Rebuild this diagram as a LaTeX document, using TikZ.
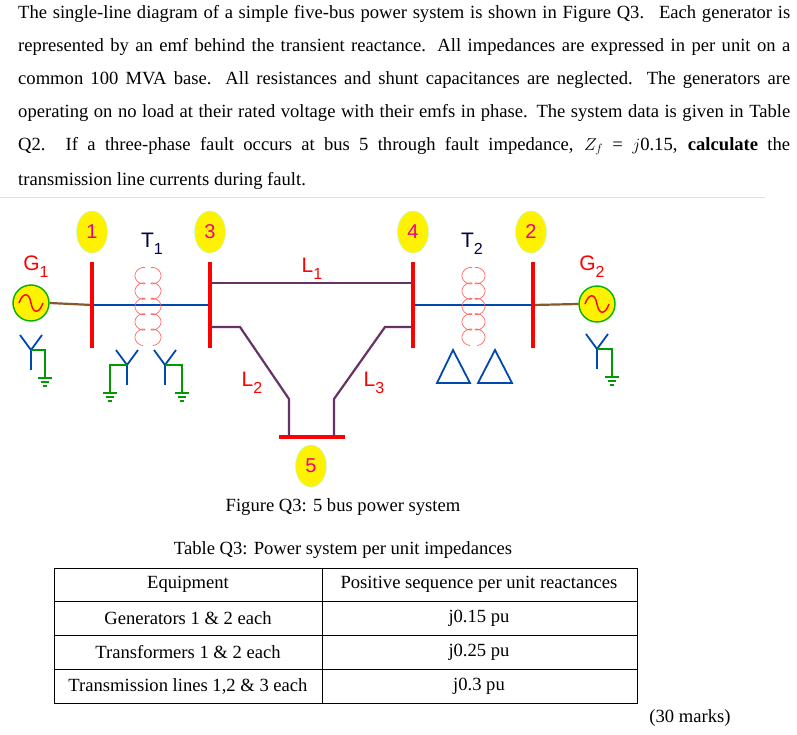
\documentclass[tikz,border=0pt]{standalone}
\usepackage{fontspec}
\usetikzlibrary{shapes.geometric}
\setmainfont{Liberation Serif}
\newfontfamily\lbl{Liberation Sans}
\newcommand\gwye[3]{% x, y of junction, dir of ground
 \draw[wye] (#1-11,#2-15) -- (#1,#2) -- (#1+11,#2-15);
 \draw[wye] (#1,#2) -- (#1,#2+20);
 \draw[gnd] (#1,#2) -- (#1+#3,#2) -- (#1+#3,#2+28);
 \draw[gnd,line width=1.8pt] (#1+#3-7,#2+28) -- (#1+#3+7,#2+28);
 \draw[gnd] (#1+#3-4,#2+32) -- (#1+#3+4,#2+32);
 \draw[gnd] (#1+#3-2,#2+36) -- (#1+#3+2,#2+36);}
\newcommand\sbs[1]{\raisebox{-7pt}{\fontsize{16}{16}\selectfont #1}}
\begin{document}
\begin{tikzpicture}[x=1pt,y=-1pt,
 txt/.style={anchor=west,inner sep=0pt,font=\fontsize{18.6}{20}\selectfont},
 busbar/.style={red,line width=3.2pt},
 busnum/.style={ellipse,draw=green!40!cyan!30,fill=yellow,minimum width=31pt,minimum height=42pt,inner sep=0pt,text=magenta,font=\lbl\fontsize{20}{20}\selectfont},
 gen/.style={circle,draw=green!70!black,line width=1.4pt,fill=yellow,minimum size=36pt,inner sep=0pt},
 line/.style={draw=violet!50!gray!80!black,line width=2.2pt},
 blueline/.style={draw=blue!60!cyan!70!black,line width=1.8pt},
 brown/.style={draw=brown!70!black,line width=2.2pt},
 red lbl/.style={text=red,font=\lbl\fontsize{21}{21}\selectfont},
 navy lbl/.style={text=blue!30!black,font=\lbl\fontsize{21}{21}\selectfont},
 gnd/.style={draw=green!60!black,line width=1.3pt},
 wye/.style={draw=blue!60!cyan!70!black,line width=1.8pt},
 coil/.style={draw=red!60,line width=0.7pt},
 tab/.style={font=\fontsize{18.6}{20}\selectfont}]
\useasboundingbox (0,0) rectangle (797,735);
\fill[white] (0,0) rectangle (797,735);
% paragraph
\node[txt] (p1) at (18,14) {\makebox[772pt][s]{The single-line diagram of a simple five-bus power system is shown in Figure Q3. \ Each generator is}};
\node[txt] (p2) at (18,47) {\makebox[772pt][s]{represented by an emf behind the transient reactance. All impedances are expressed in per unit on a}};
\node[txt] (p3) at (18,80) {\makebox[772pt][s]{common 100 MVA base. All resistances and shunt capacitances are neglected. The generators are}};
\node[txt] (p4) at (18,113) {\makebox[772pt][s]{operating on no load at their rated voltage with their emfs in phase. The system data is given in Table}};
\node[txt] (p5) at (18,146) {\makebox[772pt][s]{Q2. If a three-phase fault occurs at bus 5 through fault impedance, $Z_f$ = $j$0.15, \textbf{calculate} the}};
\node[txt] (p6) at (18,181) {transmission line currents during fault.};
\draw[gray!25,line width=1pt] (0,198) -- (765,198);
% buses
\coordinate (b1t) at (92,262); \coordinate (b1b) at (92,348);
\coordinate (b3t) at (210,262); \coordinate (b3b) at (210,348);
\coordinate (b4t) at (413,262); \coordinate (b4b) at (413,348);
\coordinate (b2t) at (533,262); \coordinate (b2b) at (533,348);
\coordinate (b5l) at (279,437); \coordinate (b5r) at (345,437);
% connections
\node[gen] (g1) at (31,303) {};
\node[gen] (g2) at (597,304) {};
\draw[brown] (g1.east) -- (92,305);
\draw[brown] (533,305) -- (g2.west);
\draw[blueline] (92,305) -- (210,305);
\draw[blueline] (413,305) -- (533,305);
\draw[line] (210,283) -- (413,283);
\draw[line] (210,327) -- (240,327) -- (289,399) -- (289,437);
\draw[line] (413,327) -- (385,327) -- (334,399) -- (334,437);
\draw[busbar] (b1t) -- (b1b);
\draw[busbar] (b3t) -- (b3b);
\draw[busbar] (b4t) -- (b4b);
\draw[busbar] (b2t) -- (b2b);
\draw[busbar] (b5l) -- (b5r);
% generator sines
\foreach \g in {g1,g2}{
 \draw[red,line width=1.4pt] ([xshift=-12pt]\g.center) .. controls ([xshift=-8pt,yshift=11pt]\g.center) and ([xshift=-2pt,yshift=11pt]\g.center) .. (\g.center) .. controls ([xshift=2pt,yshift=-11pt]\g.center) and ([xshift=8pt,yshift=-11pt]\g.center) .. ([xshift=12pt]\g.center);}
% transformer coils
\foreach \cx/\d in {140/1,156/-1,467/1,480/-1}{
 \draw[coil] plot[domain=0:30.5,samples=160,smooth] ({\cx+\d*5*cos(\x r)},{268+2.45*\x-3.5*sin(\x r)});
}
% bus number bubbles
\node[busnum] (n1) at (92,232) {1};
\node[busnum] (n3) at (210,232) {3};
\node[busnum] (n4) at (413,232) {4};
\node[busnum] (n2) at (531,232) {2};
\node[busnum] (n5) at (311,466) {5};
% labels
\node[red lbl] (lg1) at (36,267) {G\sbs{1}};
\node[red lbl] (lg2) at (592,267) {G\sbs{2}};
\node[navy lbl] (lt1) at (152,244) {T\sbs{1}};
\node[navy lbl] (lt2) at (472,244) {T\sbs{2}};
\node[red lbl] (ll1) at (312,269) {L\sbs{1}};
\node[red lbl] (ll2) at (252,383) {L\sbs{2}};
\node[red lbl] (ll3) at (374,383) {L\sbs{3}};
% grounded wyes
\gwye{31}{350}{14}
\gwye{127}{365}{-17}
\gwye{165}{365}{17}
\gwye{597}{349}{15}
% deltas
\draw[wye] (437,383) -- (453,350) -- (470,383) -- cycle;
\draw[wye] (478,383) -- (495,350) -- (512,383) -- cycle;
% captions
\node[tab] (cap1) at (343,507) {Figure Q3: 5 bus power system};
\node[tab] (cap2) at (343,550) {Table Q3: Power system per unit impedances};
% table
\draw[line width=0.6pt] (54,568) rectangle (637,703);
\foreach \yy in {601,635,669} \draw[line width=0.6pt] (54,\yy) -- (637,\yy);
\draw[line width=0.6pt] (322,568) -- (322,703);
\node[tab] (t11) at (188,584) {Equipment};
\node[tab] (t12) at (479,584) {Positive sequence per unit reactances};
\node[tab] (t21) at (188,618) {Generators 1 \& 2 each};
\node[tab] (t22) at (479,618) {j0.15 pu};
\node[tab] (t31) at (188,652) {Transformers 1 \& 2 each};
\node[tab] (t32) at (479,652) {j0.25 pu};
\node[tab] (t41) at (188,686) {Transmission lines 1,2 \& 3 each};
\node[tab] (t42) at (479,686) {j0.3 pu};
\node[tab] (marks) at (690,718) {(30 marks)};
\end{tikzpicture}
\end{document}
